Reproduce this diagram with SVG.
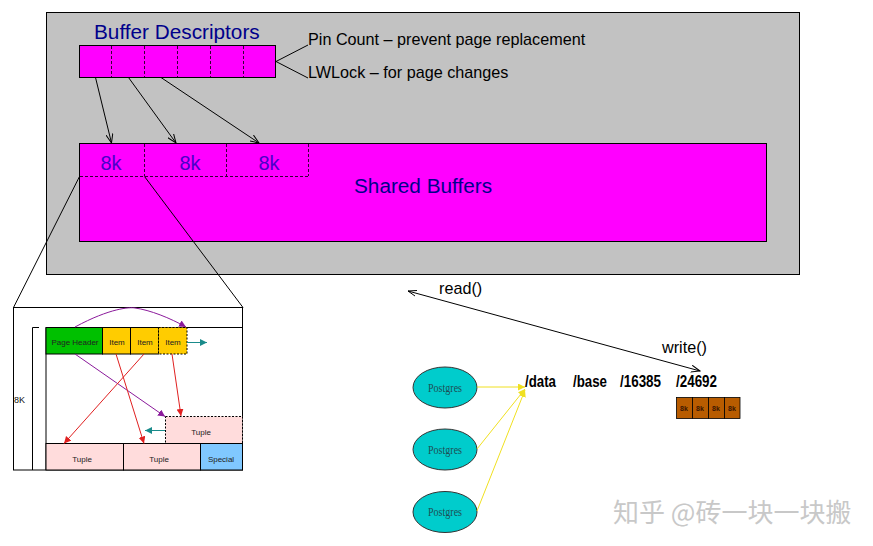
<svg xmlns="http://www.w3.org/2000/svg" width="873" height="546" viewBox="0 0 873 546">
<style>
.s{stroke:#000;stroke-width:1}
.d{stroke:#000;stroke-width:.8;stroke-dasharray:3 2;fill:none}
.l{fill:none;stroke:#000;stroke-width:1}
.sans{font-family:"Liberation Sans",Arial,sans-serif}
.serif{font-family:"Liberation Serif","Times New Roman",serif}
.blue{fill:#00008b;font-size:20.75px}
.blk{fill:#000;font-size:16.2px}
.sm{fill:#222;font-size:8px;text-anchor:middle}
.pg{fill:#1f4f55;font-size:11.5px}
.tuple{fill:#ffdcdc;stroke:#000}
.k{fill:#b85c00;stroke:#000;stroke-width:.8}
.kt{fill:#3a1500;font-size:7px;font-weight:bold;text-anchor:middle}
.pth{font-size:16.5px;font-weight:bold;fill:#000}
</style>
<defs>
<marker id="ab" markerWidth="10" markerHeight="8" refX="9" refY="4" orient="auto" markerUnits="userSpaceOnUse"><path d="M0 0.5L9 4L0 7.5" fill="none" stroke="#000"/></marker>
<marker id="ar" markerWidth="8" markerHeight="8" refX="7" refY="3.5" orient="auto" markerUnits="userSpaceOnUse"><path d="M0 0L7 3.5L0 7z" fill="#e02020"/></marker>
<marker id="ap" markerWidth="8" markerHeight="8" refX="7" refY="3.5" orient="auto" markerUnits="userSpaceOnUse"><path d="M0 0L7 3.5L0 7z" fill="#8b1a9b"/></marker>
<marker id="at" markerWidth="8" markerHeight="8" refX="7" refY="3.5" orient="auto" markerUnits="userSpaceOnUse"><path d="M0 0L7 3.5L0 7z" fill="#1a8b8b"/></marker>
<marker id="ay" markerWidth="8" markerHeight="8" refX="7" refY="3.5" orient="auto" markerUnits="userSpaceOnUse"><path d="M0 0L7 3.5L0 7z" fill="#f0e020"/></marker>
</defs>
<rect width="873" height="546" fill="#fff"/>
<g id="shared-memory"><rect x="46.500" y="12.500" width="753" height="262" fill="#c2c2c2" stroke="#000"/></g>
<g id="buffer-descriptors">
<rect x="79.500" y="45.500" width="196" height="32" fill="#ff00ff" stroke="#000"/>
<path class="d" d="M111.500 46V77M144.500 46V77M177.500 46V77M210.500 46V77M243.500 46V77"/>
<text class="sans blue" x="94" y="39">Buffer Descriptors</text>
</g>
<g id="shared-buffers">
<rect x="79.500" y="143.500" width="687" height="98" fill="#ff00ff" stroke="#000"/>
<path class="d" d="M144.500 144V176M226.500 144V176M308.500 144V176M80 176.500H308"/>
<text class="sans" x="111" y="170" font-size="20" fill="#4a00c8" text-anchor="middle">8k</text>
<text class="sans" x="190" y="170" font-size="20" fill="#4a00c8" text-anchor="middle">8k</text>
<text class="sans" x="269" y="170" font-size="20" fill="#4a00c8" text-anchor="middle">8k</text>
<text class="sans blue" x="354" y="193">Shared Buffers</text>
</g>
<g id="labels">
<text class="sans blk" x="308" y="45">Pin Count – prevent page replacement</text>
<text class="sans blk" x="308" y="78">LWLock – for page changes</text>
<text class="sans blk" x="439" y="294">read()</text>
<text class="sans blk" x="662" y="353">write()</text>
</g>
<g id="page">
<rect x="13.500" y="307.500" width="229" height="162.500" fill="#fff" stroke="#000"/>
<path class="l" d="M46 327.500H242.500M46 327.500V470M39 327.500H32.500V470"/>
<text class="sans" x="14" y="403" font-size="9" fill="#111">8K</text>
<rect x="46" y="327.500" width="56.500" height="26.500" fill="#00c000" stroke="#000"/>
<text class="sans sm" x="75" y="345" textLength="47" lengthAdjust="spacingAndGlyphs">Page Header</text>
<rect x="102.500" y="327.500" width="28" height="26.500" fill="#ffcc00" stroke="#000"/>
<text class="sans sm" x="117" y="345">Item</text>
<rect x="130.500" y="327.500" width="28" height="26.500" fill="#ffcc00" stroke="#000"/>
<text class="sans sm" x="145" y="345">Item</text>
<rect x="158.500" y="327.500" width="28.500" height="26.500" fill="#ffcc00" stroke="#000" stroke-dasharray="2 1.500"/>
<text class="sans sm" x="173" y="345">Item</text>
<rect x="165.500" y="416.500" width="77" height="27" fill="#ffdcdc" stroke="#000" stroke-dasharray="2 1.500"/>
<text class="sans sm" x="201" y="435">Tuple</text>
<rect class="tuple" x="46" y="443.500" width="77.500" height="26.500"/>
<text class="sans sm" x="82" y="462">Tuple</text>
<rect class="tuple" x="123.500" y="443.500" width="77" height="26.500"/>
<text class="sans sm" x="159" y="462">Tuple</text>
<rect x="200.500" y="443.500" width="42" height="26.500" fill="#80c8ff" stroke="#000"/>
<text class="sans sm" x="221" y="462">Special</text>
</g>
<g id="postgres-1"><ellipse cx="445" cy="387.500" rx="32" ry="20.500" fill="#00cccc" stroke="#333"/><text class="serif pg" x="428" y="392" textLength="34" lengthAdjust="spacingAndGlyphs">Postgres</text></g>
<g id="postgres-2"><ellipse cx="445" cy="449.500" rx="32" ry="20.500" fill="#00cccc" stroke="#333"/><text class="serif pg" x="428" y="454" textLength="34" lengthAdjust="spacingAndGlyphs">Postgres</text></g>
<g id="postgres-3"><ellipse cx="445" cy="512" rx="32" ry="20.500" fill="#00cccc" stroke="#333"/><text class="serif pg" x="428" y="516" textLength="34" lengthAdjust="spacingAndGlyphs">Postgres</text></g>
<g id="path">
<text class="sans pth" x="525" y="387" textLength="31" lengthAdjust="spacingAndGlyphs">/data</text>
<text class="sans pth" x="573" y="387" textLength="34" lengthAdjust="spacingAndGlyphs">/base</text>
<text class="sans pth" x="620" y="387" textLength="41" lengthAdjust="spacingAndGlyphs">/16385</text>
<text class="sans pth" x="676" y="387" textLength="41" lengthAdjust="spacingAndGlyphs">/24692</text>
</g>
<g id="file">
<rect class="k" x="676.500" y="397.500" width="16" height="21"/><rect class="k" x="692.500" y="397.500" width="16" height="21"/><rect class="k" x="708.500" y="397.500" width="16" height="21"/><rect class="k" x="724.500" y="397.500" width="15.500" height="21"/>
<text class="sans kt" x="684" y="411">8k</text><text class="sans kt" x="700" y="411">8k</text><text class="sans kt" x="716" y="411">8k</text><text class="sans kt" x="732" y="411">8k</text>
</g>
<g id="connectors" fill="none">
<path class="l" d="M308 45L276 61.500L308 78"/>
<path class="l" marker-end="url(#ab)" d="M95.500 77.500L111.500 143"/>
<path class="l" marker-end="url(#ab)" d="M128.500 77.500L176 143"/>
<path class="l" marker-end="url(#ab)" d="M161 77.500L259 143"/>
<path class="l" d="M79.500 176.500L13.500 307.500M144.500 176.500L243 307.500"/>
<path class="l" marker-end="url(#ab)" d="M408 291L700 371"/>
<path d="M417 290.500L408 291L415 296" stroke="#000"/>
<path stroke="#8b1a9b" marker-end="url(#ap)" d="M75 327C110 308 130 307 135 308C150 310 170 318 186 327"/>
<path stroke="#8b1a9b" marker-end="url(#ap)" d="M75 354L165 416.500"/>
<path stroke="#e02020" marker-end="url(#ar)" d="M144 354L64 443.500"/>
<path stroke="#e02020" marker-end="url(#ar)" d="M116 354L144 443.500"/>
<path stroke="#e02020" marker-end="url(#ar)" d="M172 354L181 416"/>
<path stroke="#1a8b8b" marker-end="url(#at)" d="M187 342.500H207"/>
<path stroke="#1a8b8b" marker-end="url(#at)" d="M165 430.500H145"/>
<path stroke="#f0e020" marker-end="url(#ay)" d="M477 387H525"/>
<path stroke="#f0e020" marker-end="url(#ay)" d="M477 449L525 389"/>
<path stroke="#f0e020" marker-end="url(#ay)" d="M477 511L525 390"/>
</g>
<g id="watermark"><text x="613" y="522" font-family="'Noto Sans CJK SC',sans-serif" font-size="26" fill="#c8c8c8">知乎 @砖一块一块搬</text></g>
</svg>
